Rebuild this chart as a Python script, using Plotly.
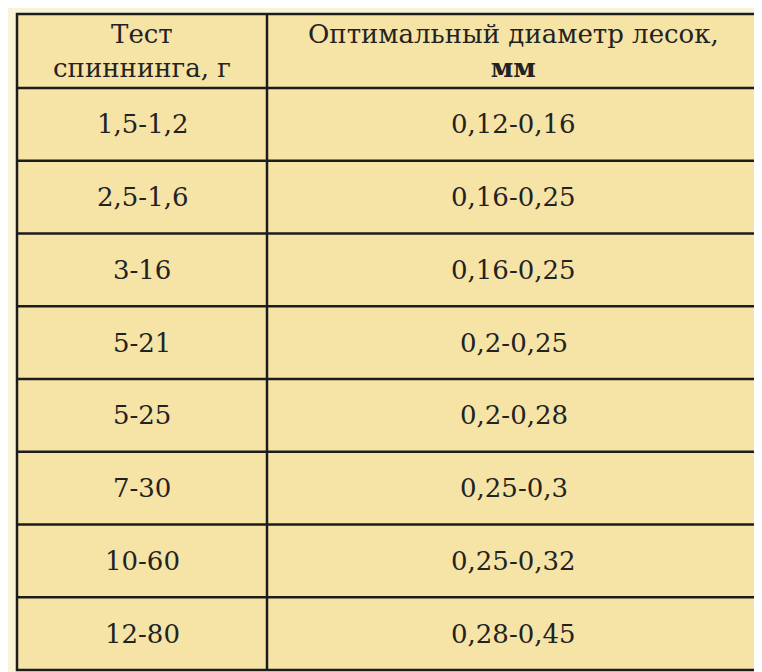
import plotly.graph_objects as go

# table contents
header = ['Тест<br>спиннинга, г', 'Оптимальный диаметр лесок,<br><b>мм</b>']
rod_test = ['1,5-1,2', '2,5-1,6', '3-16', '5-21', '5-25', '7-30', '10-60', '12-80']
line_diam = ['0,12-0,16', '0,16-0,25', '0,16-0,25', '0,2-0,25', '0,2-0,28',
             '0,25-0,3', '0,25-0,32', '0,28-0,45']

# grid geometry (pixel-like axis units)
col_edges = [9, 259, 752]
top, header_bottom, bottom = 6, 80, 662
row_h = (bottom - header_bottom) / len(rod_test)

bg = '#F6E3A6'
border = '#1c1c1c'
font = dict(family='DejaVu Serif, Liberation Serif, serif', size=26, color='#222222')

fig = go.Figure()

# background + outer frame
fig.add_shape(type='rect', x0=col_edges[0], x1=col_edges[-1], y0=top, y1=bottom,
              fillcolor=bg, line=dict(color=border, width=2.5))
# column divider
fig.add_shape(type='line', x0=col_edges[1], x1=col_edges[1], y0=top, y1=bottom,
              line=dict(color=border, width=2.5))
# row lines
for i in range(len(rod_test)):
    y = header_bottom + i * row_h
    fig.add_shape(type='line', x0=col_edges[0], x1=col_edges[-1], y0=y, y1=y,
                  line=dict(color=border, width=2.5))

centers = [(col_edges[0] + col_edges[1]) / 2, (col_edges[1] + col_edges[2]) / 2]
for c, txt in zip(centers, header):
    fig.add_annotation(x=c, y=(top + header_bottom) / 2, text=txt, showarrow=False,
                       font=font, align='center')
for i, (a, b) in enumerate(zip(rod_test, line_diam)):
    yc = header_bottom + (i + 0.5) * row_h
    fig.add_annotation(x=centers[0], y=yc, text=a, showarrow=False, font=font)
    fig.add_annotation(x=centers[1], y=yc, text=b, showarrow=False, font=font)

fig.update_xaxes(range=[0, 762], visible=False, fixedrange=True)
fig.update_yaxes(range=[672, 0], visible=False, fixedrange=True)
fig.update_layout(width=762, height=672, margin=dict(l=0, r=0, t=0, b=0),
                  paper_bgcolor='#F9F3D8', plot_bgcolor='#F9F3D8', showlegend=False)
fig.write_html("out.html")
